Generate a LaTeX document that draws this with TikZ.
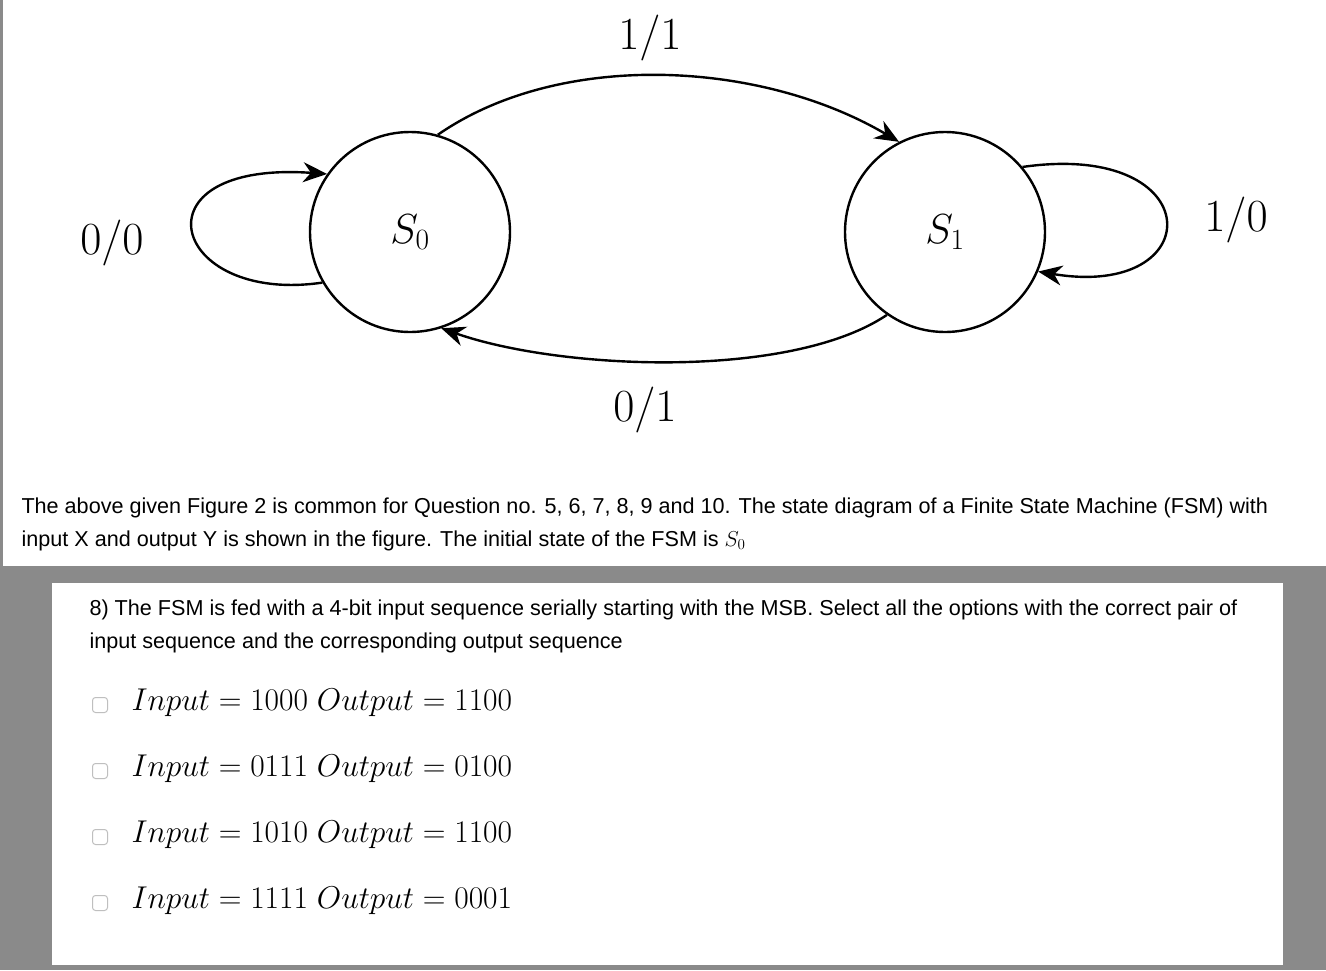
\documentclass[tikz,border=0pt]{standalone}
\usepackage{fix-cm}
\usepackage{fontspec}
\setsansfont{Liberation Sans}
\usetikzlibrary{arrows.meta}
\begin{document}
\begin{tikzpicture}[x=1pt,y=-1pt,
  st/.style={circle,draw,line width=2.4pt,minimum size=200pt,inner sep=0pt,font=\fontsize{42}{42}\selectfont},
  edge/.style={line width=2.4pt,-{Stealth[length=24pt,width=20pt]}},
  lab/.style={font=\fontsize{46}{46}\selectfont},
  txt/.style={anchor=west,font=\sffamily\fontsize{21.6}{20}\selectfont},
  opt/.style={anchor=west,font=\fontsize{31.5}{31}\selectfont},
  cb/.style={draw=gray!50,rounded corners=3pt,line width=1pt,minimum size=15pt,inner sep=0pt}]
\useasboundingbox (0,0) rectangle (1326,970);
\fill[gray!85!black!80] (0,0) rectangle (1326,970);
\fill[white] (3,0) rectangle (1326,566);
\fill[white] (52,583) rectangle (1283,965);
\node[st] (s0) at (410,232) {$S_0$};
\node[st] (s1) at (945,232) {$S_1$};
\draw[edge] (s0.74) .. controls (560,50) and (760,60) .. (s1.117);
\draw[edge] (s1.-125) .. controls (790,380) and (560,370) .. (s0.-72);
\draw[edge] (s0.-150) .. controls (170,305) and (130,160) .. (s0.145);
\draw[edge] (s1.40) .. controls (1210,140) and (1210,300) .. (s1.-23);
\node[lab] (l11) at (650,38) {$1/1$};
\node[lab] (l01) at (645,410) {$0/1$};
\node[lab] (l00) at (112,243) {$0/0$};
\node[lab] (l10) at (1236,220) {$1/0$};
\node[txt] (t1) at (18,508) {The above given Figure 2 is common for Question no. 5, 6, 7, 8, 9 and 10. The state diagram of a Finite State Machine (FSM) with};
\node[txt] (t2) at (18,541) {input X and output Y is shown in the figure. The initial state of the FSM is $S_0$};
\node[txt] (q1) at (86,610) {8) The FSM is fed with a 4-bit input sequence serially starting with the MSB. Select all the options with the correct pair of};
\node[txt] (q2) at (86,643) {input sequence and the corresponding output sequence};
\foreach \y/\a/\b [count=\i] in {703/1000/1100,769/0111/0100,835/1010/1100,901/1111/0001}{
  \node[cb] (c\i) at (100,\y+2) {};
  \node[opt] (o\i) at (128,\y) {$Input=\a\; Output=\b$};
}
\end{tikzpicture}
\end{document}
